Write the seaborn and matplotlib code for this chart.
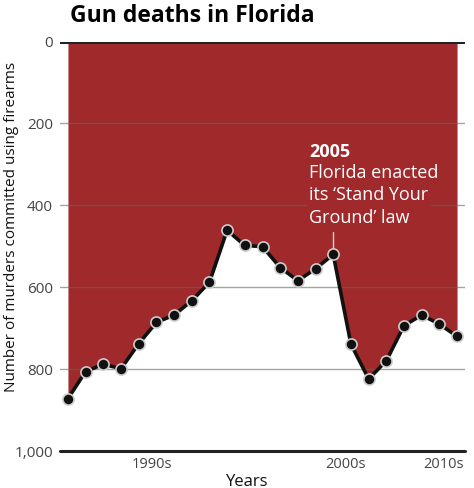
import matplotlib
matplotlib.use("Agg")
import matplotlib.pyplot as plt
import seaborn as sns
import pandas as pd
import numpy as np

years = list(range(1990, 2013))
deaths = [872, 806, 788, 799, 738, 686, 668, 633, 588, 461, 498, 501,
          552, 584, 555, 520, 739, 824, 780, 694, 668, 690, 720]
y_ticks = [0, 200, 400, 600, 800, 1000]
y_tick_labels = ["0", "200", "400", "600", "800", "1,000"]
decade_ticks = [2000, 2010]
decade_label_pos = [1994.75, 2005.7, 2011.25]
decade_labels = ["1990s", "2000s", "2010s"]
note_lines = ["Florida enacted", "its \u2018Stand Your", "Ground\u2019 law"]

df = pd.DataFrame({"year": years, "deaths": deaths})

sns.set_theme(style="white")
plt.rcParams['font.family'] = ['Open Sans', 'DejaVu Sans']

RED = "#9f292b"
fig = plt.figure(figsize=(4.74, 4.88), dpi=100)
ax = fig.add_axes([60/474, 1-451/488, 405/474, (451-41.5)/488])

ax.fill_between(df["year"], 0, df["deaths"], color=RED, zorder=1, lw=0)

for v in [200, 400, 600, 800]:
    ax.axhline(v, color="#666666", lw=1, alpha=0.6, zorder=2)
ax.axhline(0, color="#222222", lw=2.2, zorder=3)
ax.axhline(1000, color="#222222", lw=2.2, zorder=3, clip_on=False)

sns.lineplot(data=df, x="year", y="deaths", ax=ax, color="#111111", lw=2.6,
             marker="o", markersize=8, markeredgecolor="#cccccc",
             markeredgewidth=1.2, zorder=5)

ax.set_xlim(1989.55, 2012.45)
ax.set_ylim(1000, 0)
ax.set_yticks(y_ticks)
ax.set_yticklabels(y_tick_labels)
ax.tick_params(axis="y", length=0, pad=5, labelsize=11, labelcolor="#444444")

ax.set_xticks(decade_ticks)
ax.set_xticklabels([])
ax.tick_params(axis="x", which="major", length=11, width=1.8, color="#222222", direction="out")
ax.set_xticks(decade_label_pos, minor=True)
ax.set_xticklabels(decade_labels, minor=True)
ax.tick_params(axis="x", which="minor", length=0, pad=4, labelsize=10.5, labelcolor="#444444")

for s in ax.spines.values():
    s.set_visible(False)

ax.set_xlabel("Years", fontsize=12, color="#111111", labelpad=0)
ax.xaxis.set_label_coords((247-60)/405, -0.055)
ax.set_ylabel("")
fig.text(12/474, 1-227/488, "Number of murders committed using firearms",
         fontsize=11, color="#111111", rotation=90, va="center", ha="center")

# annotation
ax.plot([2005, 2005], [465, 515], color="#e8d0d0", lw=1, zorder=4)
for txt, yv in zip(note_lines, [321, 375, 430]):
    ax.text(2003.65, yv, txt, color="white", fontsize=13, va="center", ha="left",
            zorder=6, bbox=dict(facecolor=RED, edgecolor="none", pad=2))
ax.text(2003.65, 270, "2005", color="white", fontsize=13, fontweight="bold",
        va="center", ha="left", zorder=6)

fig.text(70/474, 1-16/488, "Gun deaths in Florida", fontsize=16.5, fontweight="bold",
         color="#000000", va="center", ha="left")

fig.savefig("out.png", dpi=100)
